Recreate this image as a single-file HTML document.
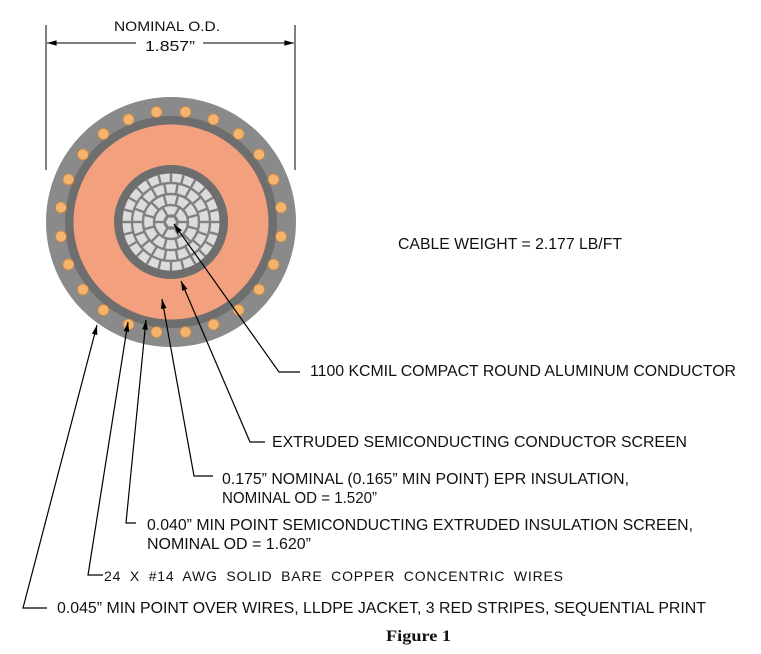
<!DOCTYPE html>
<html><head><meta charset="utf-8"><style>
html,body{margin:0;padding:0;background:#fff;width:761px;height:654px;overflow:hidden}
svg{display:block}
text{font-family:"Liberation Sans",Arial,sans-serif;fill:#111}
</style></head><body>
<svg id="s" width="761" height="654" viewBox="0 0 761 654" xmlns="http://www.w3.org/2000/svg">
<defs>
<marker id="ah" viewBox="0 0 12 10" refX="12" refY="5" markerWidth="13" markerHeight="8" markerUnits="userSpaceOnUse" orient="auto"><path d="M0,1.5 L12,5 L0,8.5 z" fill="#000"/></marker>
</defs>
<!-- dimension -->
<line x1="46" y1="25" x2="46" y2="170" stroke="#000" stroke-width="1"/>
<line x1="295" y1="25" x2="295" y2="170" stroke="#000" stroke-width="1"/>
<line x1="136" y1="43" x2="47" y2="43" stroke="#000" marker-end="url(#ah)"/>
<line x1="203" y1="43" x2="294" y2="43" stroke="#000" marker-end="url(#ah)"/>
<text x="114" y="31" font-size="14" textLength="106" lengthAdjust="spacingAndGlyphs">NOMINAL  O.D.</text>
<text x="145" y="51" font-size="15" textLength="50" lengthAdjust="spacingAndGlyphs">1.857”</text>
<!-- cable -->
<circle cx="171" cy="222" r="125" fill="#8a8a8a"/>
<circle cx="171" cy="222" r="106" fill="#6e6e6e"/>
<g id="wires"></g>
<circle cx="171" cy="222" r="97.5" fill="#f3a07e"/>
<circle cx="171" cy="222" r="57" fill="#6e6e6e"/>
<circle cx="171" cy="222" r="48.5" fill="#dcdcdc"/>
<g id="cond" stroke="#808080" stroke-width="2.4" fill="none"></g>
<!-- leaders -->
<g stroke="#000" stroke-width="1.2" fill="none">
<polyline points="300,372 279,372 174,224" marker-end="url(#ah)"/>
<polyline points="265,442 250,442 181,281" marker-end="url(#ah)"/>
<polyline points="213,476 194,476 162,299" marker-end="url(#ah)"/>
<polyline points="136,523 126,523 146,320" marker-end="url(#ah)"/>
<polyline points="103,575 88,575 128,322" marker-end="url(#ah)"/>
<polyline points="47,608 23,608 97,325" marker-end="url(#ah)"/>
</g>
<g font-size="15.5">
<text x="398" y="249" textLength="224" lengthAdjust="spacingAndGlyphs">CABLE WEIGHT = 2.177 LB/FT</text>
<text x="310" y="376" textLength="426" lengthAdjust="spacingAndGlyphs">1100 KCMIL COMPACT ROUND ALUMINUM CONDUCTOR</text>
<text x="272" y="447" textLength="415" lengthAdjust="spacingAndGlyphs">EXTRUDED SEMICONDUCTING CONDUCTOR SCREEN</text>
<text x="222" y="484" textLength="407" lengthAdjust="spacingAndGlyphs">0.175” NOMINAL (0.165” MIN POINT) EPR INSULATION,</text>
<text x="222" y="503" textLength="155" lengthAdjust="spacingAndGlyphs">NOMINAL OD = 1.520”</text>
<text x="147" y="530" textLength="546" lengthAdjust="spacingAndGlyphs">0.040” MIN POINT SEMICONDUCTING EXTRUDED INSULATION SCREEN,</text>
<text x="147" y="549" textLength="164" lengthAdjust="spacingAndGlyphs">NOMINAL OD = 1.620”</text>
<text x="104" y="581" font-size="14" textLength="459" lengthAdjust="spacing" word-spacing="4">24 X #14 AWG SOLID BARE COPPER CONCENTRIC WIRES</text>
<text x="57" y="613" textLength="649" lengthAdjust="spacingAndGlyphs">0.045” MIN POINT OVER WIRES, LLDPE JACKET, 3 RED STRIPES, SEQUENTIAL PRINT</text>
</g>
<text x="386" y="641" font-size="16" font-weight="bold" style="font-family:'Liberation Serif',serif" textLength="65" lengthAdjust="spacingAndGlyphs">Figure 1</text>
</svg>
<script>
var NS="http://www.w3.org/2000/svg",cx=171,cy=222;
function el(t,a,p){var e=document.createElementNS(NS,t);for(var k in a)e.setAttribute(k,a[k]);p.appendChild(e);return e;}
var w=document.getElementById("wires");
for(var i=0;i<24;i++){var a=(7.5+15*i)*Math.PI/180;el("circle",{cx:cx+111*Math.sin(a),cy:cy-111*Math.cos(a),r:5.5,fill:"#f5b46e",stroke:"#c88a4a","stroke-width":0.8},w);}
var c=document.getElementById("cond");
[6.5,17,28,39].forEach(function(r){el("circle",{cx:cx,cy:cy,r:r},c);});
var rings=[[6.5,17,6],[17,28,12],[28,39,18],[39,48.5,24]];
rings.forEach(function(g){for(var i=0;i<g[2];i++){var a=(i*360/g[2]+(g[2]==12?15:0))*Math.PI/180;el("line",{x1:cx+g[0]*Math.cos(a),y1:cy+g[0]*Math.sin(a),x2:cx+g[1]*Math.cos(a),y2:cy+g[1]*Math.sin(a)},c);}});
var h=[];for(var i=0;i<6;i++){var a=(i*60)*Math.PI/180;h.push((cx+6.5*Math.cos(a))+","+(cy+6.5*Math.sin(a)));}
el("polygon",{points:h.join(" ")},c);
</script>
</body></html>
